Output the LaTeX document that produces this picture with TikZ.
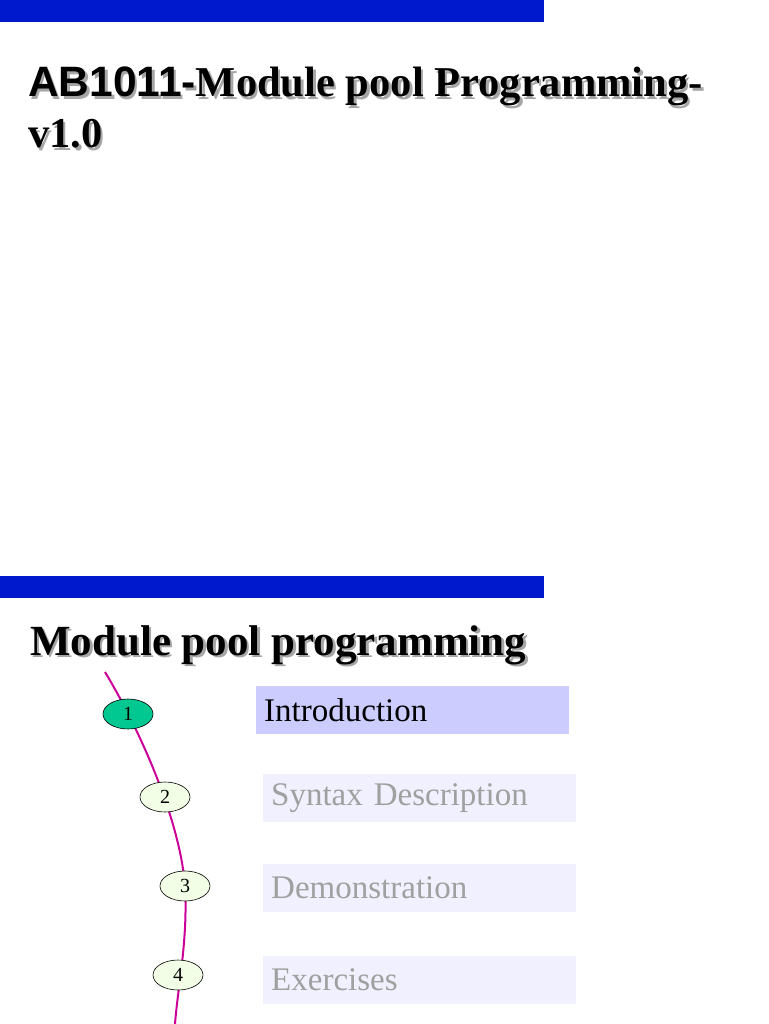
\documentclass[tikz,border=0pt]{standalone}
\usepackage{fontspec}
\setmainfont{Liberation Serif}
\newfontfamily\arialf{Liberation Sans}
\usetikzlibrary{shapes.geometric}
\definecolor{barblue}{HTML}{0019CC}
\definecolor{mag}{HTML}{CC0099}
\definecolor{teal1}{HTML}{00C890}
\definecolor{pale}{HTML}{F2FFE6}
\definecolor{boxa}{HTML}{CCCCFF}
\definecolor{boxb}{HTML}{F0F0FF}
\definecolor{gtext}{HTML}{A0A0A0}
\begin{document}
\begin{tikzpicture}[x=1pt,y=-1pt,
  bar/.style={fill=barblue,draw=none},
  ttl/.style={anchor=base west,inner sep=0pt,font=\fontsize{42.5}{46}\selectfont\bfseries},
  ttlb/.style={anchor=base west,inner sep=0pt,font=\fontsize{43}{46}\selectfont\bfseries},
  num/.style={ellipse,draw=black,line width=0.6pt,minimum width=50pt,minimum height=30pt,inner sep=0pt,font=\fontsize{20}{22}\selectfont},
  item/.style={anchor=west,minimum width=313pt,minimum height=48pt,inner sep=8pt,text width=297pt,font=\fontsize{33}{35}\selectfont}]
\useasboundingbox (0,0) rectangle (768,1024);
\fill[white] (0,0) rectangle (768,1024);
\fill[bar] (0,0) rectangle (544,22);
\fill[bar] (0,576) rectangle (544,598);
\node[ttl,text=gray!70] at (30.5,99.5) {{\arialf AB1011-}Module pool Programming-};
\node[ttl] (t1) at (28,97) {{\arialf AB1011-}Module pool Programming-};
\node[ttl,text=gray!70] at (30.5,150.5) {v1.0};
\node[ttl] (t2) at (28,148) {v1.0};
\node[ttlb,text=gray!70] at (32.5,657.5) {Module pool programming};
\node[ttlb] (t3) at (30,655) {Module pool programming};
\coordinate (c0) at (105,672);
\coordinate (c5) at (175,1024);
\draw[mag,line width=2pt] (c0) .. controls (140,730) and (180,820) .. (185,886) .. controls (188,940) and (178,985) .. (c5);
\node[num,fill=teal1] (n1) at (128,714) {1};
\node[num,fill=pale] (n2) at (165,797) {2};
\node[num,fill=pale] (n3) at (185,886) {3};
\node[num,fill=pale] (n4) at (178,975) {4};
\node[item,fill=boxa] (b1) at (256,710) {Introduction};
\node[item,fill=boxb,text=gtext] (b2) at (263,798) {Syntax Description};
\node[item,fill=boxb,text=gtext] (b3) at (263,888) {Demonstration};
\node[item,fill=boxb,text=gtext] (b4) at (263,980) {Exercises};
\end{tikzpicture}
\end{document}
